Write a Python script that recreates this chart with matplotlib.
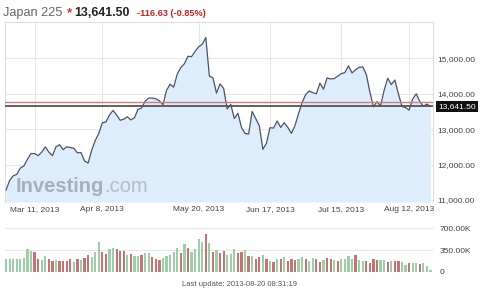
import numpy as np
import pandas as pd
import matplotlib
matplotlib.use('Agg')
import matplotlib.pyplot as plt
import matplotlib.transforms as mtransforms
from matplotlib import font_manager

plt.rcParams['font.family'] = ['Liberation Sans', 'DejaVu Sans']

# Tokyo trading days shown on the chart
holidays = ['2013-03-20', '2013-04-29', '2013-05-03', '2013-05-06', '2013-07-15']
days = pd.bdate_range('2013-02-27', '2013-08-20')
days = days[~days.isin(pd.to_datetime(holidays))]

close = [11280, 11550, 11680, 11720, 11900, 11960, 12150, 12310, 12310, 12250,
         12350, 12500, 12350, 12250, 12500, 12560, 12420, 12500, 12480, 12460,
         12330, 12340, 12100, 12040, 12400, 12680, 12880, 13180, 13200, 13400,
         13530, 13400, 13250, 13280, 13350, 13260, 13320, 13560, 13600, 13790,
         13880, 13880, 13860, 13800, 13690, 14100, 14270, 14190, 14560, 14740,
         14850, 15060, 15050, 15200, 15330, 15400, 15590, 14500, 14450, 14020,
         14280, 14150, 13570, 13700, 13300, 13450, 13050, 12880, 12860, 13500,
         13300, 13100, 12430, 12600, 13040, 13030, 13230, 13050, 13180, 13050,
         12880, 13100, 13440, 13750, 13980, 14080, 14030, 14000, 14300, 14130,
         14450, 14420, 14430, 14500, 14570, 14600, 14790, 14590, 14680, 14750,
         14760, 14550, 14050, 13630, 13780, 13650, 14100, 14440, 14260, 14390,
         14000, 13640, 13610, 13540, 13850, 14000, 13780, 13650, 13710, 13641.5]

# volume in thousands
volume = [215, 204, 204, 204, 204, 226, 366, 344, 323, 215, 188, 258, 204, 172, 188,
          178, 172, 172, 204, 161, 215, 194, 226, 280, 242, 323, 484, 323, 296, 377,
          387, 366, 339, 339, 280, 296, 258, 258, 280, 312, 301,
          242, 204, 188, 226, 258, 269, 323, 393, 312, 447, 387, 323, 377, 527, 484,
          603, 473, 323, 350, 312, 339, 280, 291, 377, 312, 323, 350, 258, 258, 215,
          242, 280, 215, 178, 161, 215, 215, 242, 172, 204, 188,
          204, 242, 215, 172, 231, 215, 161, 188, 226, 204, 188, 178, 204, 215, 253,
          204, 269, 188, 172, 172, 151, 204, 199, 199, 199, 161, 172, 172, 178, 161,
          118, 151, 151, 145, 135, 151, 97, 27]
# G = up day, R = down day
vol_dir = ("GGGGGGGGRRGGRRGRRRRGRGRRGGGRRGGRRRGRGGRGG"
           "RRRGGGGGRGRGGGGRGRGRRGGGRRGRGRRGRGRGRGRRR"
           "GGRGGRRGRRGRGGGGRGGRRRRGGRGRRGGRGGRGGG")

tick_dates = ['2013-03-11', '2013-04-08', '2013-05-20', '2013-06-17', '2013-07-15', '2013-08-12']
tick_labels = ['Mar 11, 2013', 'Apr 8, 2013', 'May 20, 2013', 'Jun 17, 2013',
               'Jul 15, 2013', 'Aug 12, 2013']
price_ticks = [11000, 12000, 13000, 14000, 15000]
vol_ticks = [0, 350, 700]
last_price = 13641.50
prev_close = 13758.13
change = -116.63
change_pct = -0.85

x = np.arange(len(days))
tick_pos = days.searchsorted(pd.to_datetime(tick_dates))

fig = plt.figure(figsize=(4.8, 2.92), dpi=100)
W, H = 480.0, 292.0
ax = fig.add_axes([5 / W, 1 - 202 / H, 428 / W, 180 / H])
axv = fig.add_axes([5 / W, 1 - 272 / H, 428 / W, 56 / H])

grid_c = '#e6e6e6'
txt_c = '#444444'

# price panel
ax.fill_between(x, close, 10940, color='#ddedfb', lw=0, zorder=1)
ax.plot(x, close, color='#4b5365', lw=0.9, zorder=3)
ax.axhline(prev_close, color='#d77a7a', lw=1.0, zorder=4)
ax.axhline(last_price, color='#555555', lw=1.3, zorder=4)
ax.set_xlim(-0.3, 119.7)
ax.set_ylim(10940, 16030)
ax.set_yticks(price_ticks)
ax.set_yticklabels(['{:,.2f}'.format(v) for v in price_ticks])
ax.yaxis.tick_right()
ax.set_xticks(tick_pos)
ax.set_xticklabels(tick_labels)
ax.tick_params(axis='both', length=0, labelsize=6, labelcolor=txt_c)
ax.tick_params(axis='y', pad=3)
ax.tick_params(axis='x', pad=3)
ax.grid(True, color=grid_c, lw=0.8, zorder=0)
ax.set_axisbelow(True)
for s in ax.spines.values():
    s.set_color('#dddddd')
    s.set_linewidth(0.8)
ax.spines['bottom'].set_visible(False)

# current price marker
trans = mtransforms.blended_transform_factory(ax.transAxes, ax.transData)
ax.text(1.012, last_price, '{:,.2f}'.format(last_price), transform=trans,
        ha='left', va='center', fontsize=6, color='white', zorder=6, clip_on=False,
        bbox=dict(boxstyle='square,pad=0.25', fc='#111111', ec='none'))

# watermark (narrow face if present)
names = {f.name for f in font_manager.fontManager.ttflist}
if 'Liberation Sans Narrow' in names:
    wm_family, wm_size = 'Liberation Sans Narrow', 17
else:
    wm_family, wm_size = 'Liberation Sans', 14.5
wm = ax.text(0.024, 0.057, 'Investing', transform=ax.transAxes, fontsize=wm_size,
             fontweight='bold', family=wm_family, color='#97a1ac', alpha=0.8,
             ha='left', va='baseline', zorder=2)
fig.canvas.draw()
bb = wm.get_window_extent().transformed(ax.transAxes.inverted())
ax.text(bb.x1 + 0.002, 0.057, '.com', transform=ax.transAxes, fontsize=wm_size,
        family=wm_family, color='#a9b2bc', alpha=0.8, ha='left', va='baseline', zorder=2)

# volume panel
colors = ['#9ccfa8' if d == 'G' else '#c57474' for d in vol_dir]
axv.bar(x, volume, width=0.62, color=colors, lw=0, zorder=3)
axv.set_xlim(-0.3, 119.7)
axv.set_ylim(0, 900)
axv.set_yticks(vol_ticks)
axv.set_yticklabels(['0' if v == 0 else '{:.2f}K'.format(v) for v in vol_ticks])
axv.yaxis.tick_right()
axv.set_xticks([])
axv.tick_params(axis='y', length=0, labelsize=6, labelcolor=txt_c, pad=5)
axv.grid(True, axis='y', color=grid_c, lw=0.8, zorder=0)
for s in axv.spines.values():
    s.set_visible(False)

# header
yb = 1 - 16 / H
fig.text(3 / W, yb, 'Japan 225', fontsize=9.2, color='#666666', va='baseline')
fig.text(67 / W, yb, '*', fontsize=9.5, color='#d03030', fontweight='bold', va='baseline')
fig.text(74 / W, yb, '{:,.2f}'.format(last_price), fontsize=8.9, color='#222222',
         fontweight='bold', va='baseline')
fig.text(137 / W, yb, '{:.2f} ({:.2f}%)'.format(change, change_pct), fontsize=6.6,
         color='#d02020', fontweight='bold', va='baseline')

fig.text(0.5, 1 - 284 / H, 'Last update: 2013-08-20 08:31:19', fontsize=5.5,
         color='#555555', ha='center', va='center')

fig.savefig('out.png', dpi=100)
